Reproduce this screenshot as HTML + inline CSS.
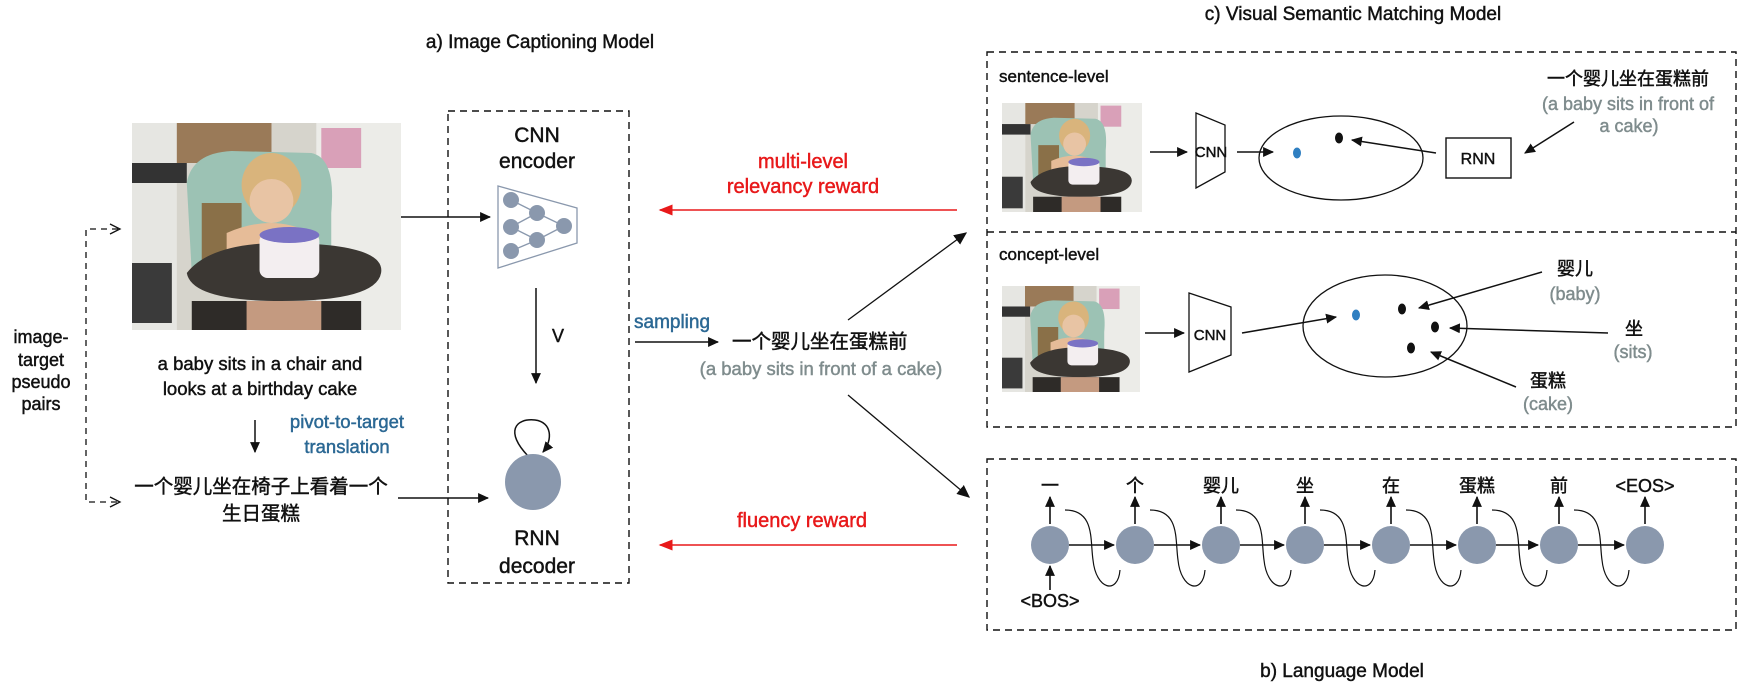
<!DOCTYPE html>
<html><head><meta charset="utf-8"><style>
html,body{margin:0;padding:0;background:#fff;}
svg{display:block;}
text{font-family:"Liberation Sans","Noto Sans CJK SC",sans-serif;fill:#111;stroke:#111;stroke-width:0.45;}
.g{fill:#7f8c8d;stroke:#7f8c8d;}
.b{fill:#2b6894;stroke:#2b6894;}
.r{fill:#e8191a;stroke:#e8191a;}
</style></head><body>
<svg width="1745" height="689" viewBox="0 0 1745 689" xmlns="http://www.w3.org/2000/svg">
<defs>
<marker id="ah" viewBox="0 0 10 10" refX="9" refY="5" markerWidth="11" markerHeight="11" orient="auto" markerUnits="userSpaceOnUse"><path d="M0,0.5 L10,5 L0,9.5 z" fill="#111"/></marker>
<marker id="ahs" viewBox="0 0 10 10" refX="9" refY="5" markerWidth="13" markerHeight="13" orient="auto" markerUnits="userSpaceOnUse"><path d="M0,0.5 L10,5 L0,9.5 z" fill="#111"/></marker>
<marker id="ahr" viewBox="0 0 10 10" refX="9" refY="5" markerWidth="14" markerHeight="14" orient="auto" markerUnits="userSpaceOnUse"><path d="M0,1 L10,5 L0,9 z" fill="#e8191a"/></marker>
<symbol id="photo" viewBox="0 0 270 207" preserveAspectRatio="none">
<rect width="270" height="207" fill="#d6d4cc"/>
<rect x="0" y="0" width="45" height="207" fill="#e6e6e2"/>
<rect x="0" y="40" width="55" height="20" fill="#333"/>
<rect x="0" y="140" width="40" height="60" fill="#3a3a3a"/>
<rect x="45" y="0" width="95" height="40" fill="#9a7a58"/>
<rect x="185" y="0" width="85" height="207" fill="#ecece8"/>
<rect x="190" y="5" width="40" height="40" fill="#d9a0b8"/>
<path d="M55,60 Q60,30 100,28 L180,30 Q205,35 200,90 L200,150 L60,150 z" fill="#9cc2b4"/>
<path d="M70,80 L110,80 L110,140 L70,140 z" fill="#8a7048"/>
<ellipse cx="140" cy="62" rx="30" ry="32" fill="#d9b47c"/>
<ellipse cx="140" cy="78" rx="22" ry="22" fill="#e8c4a4"/>
<path d="M95,110 Q140,90 180,110 L180,150 L95,150 z" fill="#e6bc98"/>
<path d="M55,150 Q80,118 160,120 Q255,122 250,150 Q245,178 150,178 Q60,178 55,150 z" fill="#3b3733"/>
<rect x="128" y="110" width="60" height="45" rx="8" fill="#f3eef0"/>
<ellipse cx="158" cy="112" rx="30" ry="8" fill="#7a72c4"/>
<rect x="60" y="178" width="170" height="29" fill="#2e2b28"/>
<rect x="115" y="178" width="75" height="29" fill="#c49a80"/>
</symbol>
</defs>

<text x="540" y="48" font-size="19" text-anchor="middle">a) Image Captioning Model</text>
<text x="1353" y="20" font-size="19" text-anchor="middle">c) Visual Semantic Matching Model</text>
<text x="1342" y="677" font-size="19" text-anchor="middle">b) Language Model</text>

<use href="#photo" x="132" y="123" width="269" height="207"/>

<path d="M118,229 L86,229 L86,502 L118,502" fill="none" stroke="#111" stroke-width="1.3" stroke-dasharray="6,5"/>
<path d="M110,224 L120,229 L110,234" fill="none" stroke="#111" stroke-width="1.3"/>
<path d="M110,497 L120,502 L110,507" fill="none" stroke="#111" stroke-width="1.3"/>
<text x="41" y="343" font-size="18" text-anchor="middle">image-</text>
<text x="41" y="366" font-size="18" text-anchor="middle">target</text>
<text x="41" y="388" font-size="18" text-anchor="middle">pseudo</text>
<text x="41" y="410" font-size="18" text-anchor="middle">pairs</text>

<text x="260" y="370" font-size="18.5" text-anchor="middle">a baby sits in a chair and</text>
<text x="260" y="395" font-size="18.5" text-anchor="middle">looks at a birthday cake</text>
<line x1="255" y1="420" x2="255" y2="452" stroke="#111" stroke-width="1.5" marker-end="url(#ah)"/>
<text class="b" x="347" y="428" font-size="18.5" text-anchor="middle">pivot-to-target</text>
<text class="b" x="347" y="453" font-size="18.5" text-anchor="middle">translation</text>
<text x="261" y="493" font-size="19.5" text-anchor="middle">一个婴儿坐在椅子上看着一个</text>
<text x="261" y="520" font-size="19.5" text-anchor="middle">生日蛋糕</text>

<rect x="448" y="111" width="181" height="472" fill="none" stroke="#111" stroke-width="1.4" stroke-dasharray="7,5"/>
<text x="537" y="142" font-size="21" text-anchor="middle">CNN</text>
<text x="537" y="168" font-size="21" text-anchor="middle">encoder</text>
<path d="M498,186 L577,208 L577,243 L498,268 z" fill="none" stroke="#8a98ad" stroke-width="1.3"/>
<g stroke="#8a98ad" stroke-width="1.3">
<line x1="511" y1="200" x2="537" y2="213"/><line x1="511" y1="227" x2="537" y2="213"/><line x1="511" y1="227" x2="537" y2="240"/><line x1="511" y1="251" x2="537" y2="240"/><line x1="537" y1="213" x2="564" y2="226"/><line x1="537" y1="240" x2="564" y2="226"/>
</g>
<g fill="#8a98ad">
<circle cx="511" cy="200" r="8"/><circle cx="511" cy="227" r="8"/><circle cx="511" cy="251" r="8"/><circle cx="537" cy="213" r="8"/><circle cx="537" cy="240" r="8"/><circle cx="564" cy="226" r="8"/>
</g>
<line x1="401" y1="217" x2="490" y2="217" stroke="#111" stroke-width="1.5" marker-end="url(#ah)"/>
<line x1="536" y1="288" x2="536" y2="383" stroke="#111" stroke-width="1.5" marker-end="url(#ah)"/>
<text x="558" y="342" font-size="18" text-anchor="middle">V</text>
<path d="M528,456 C505,432 515,418 535,420 C552,422 553,440 543,452" fill="none" stroke="#111" stroke-width="1.5" marker-end="url(#ah)"/>
<circle cx="533" cy="482" r="28" fill="#8a98ad"/>
<line x1="398" y1="498" x2="488" y2="498" stroke="#111" stroke-width="1.5" marker-end="url(#ah)"/>
<text x="537" y="545" font-size="21" text-anchor="middle">RNN</text>
<text x="537" y="573" font-size="21" text-anchor="middle">decoder</text>

<text class="r" x="803" y="168" font-size="20" text-anchor="middle">multi-level</text>
<text class="r" x="803" y="193" font-size="20" text-anchor="middle">relevancy reward</text>
<line x1="957" y1="210" x2="660" y2="210" stroke="#e8191a" stroke-width="1.5" marker-end="url(#ahr)"/>
<text class="r" x="802" y="527" font-size="20" text-anchor="middle">fluency reward</text>
<line x1="957" y1="545" x2="660" y2="545" stroke="#e8191a" stroke-width="1.5" marker-end="url(#ahr)"/>
<text class="b" x="634" y="328" font-size="19">sampling</text>
<line x1="635" y1="342" x2="718" y2="342" stroke="#111" stroke-width="1.5" marker-end="url(#ah)"/>
<text x="732" y="348" font-size="19.5">一个婴儿坐在蛋糕前</text>
<text class="g" x="821" y="375" font-size="18.5" text-anchor="middle">(a baby sits in front of a cake)</text>
<line x1="848" y1="320" x2="966" y2="233" stroke="#111" stroke-width="1.3" marker-end="url(#ahs)"/>
<line x1="848" y1="395" x2="969" y2="497" stroke="#111" stroke-width="1.3" marker-end="url(#ahs)"/>

<rect x="987" y="52" width="749" height="375" fill="none" stroke="#111" stroke-width="1.4" stroke-dasharray="7,5"/>
<line x1="987" y1="232" x2="1736" y2="232" stroke="#111" stroke-width="1.4" stroke-dasharray="7,5"/>
<text x="999" y="82" font-size="17">sentence-level</text>
<use href="#photo" x="1002" y="103" width="140" height="109"/>
<line x1="1150" y1="152" x2="1187" y2="152" stroke="#111" stroke-width="1.5" marker-end="url(#ah)"/>
<path d="M1196,113 L1225,125 L1225,172 L1196,188 z" fill="#fff" stroke="#111" stroke-width="1.3"/>
<text x="1211" y="157" font-size="15" text-anchor="middle">CNN</text>
<line x1="1237" y1="152" x2="1273" y2="152" stroke="#111" stroke-width="1.5" marker-end="url(#ah)"/>
<ellipse cx="1341" cy="158" rx="82" ry="42" fill="none" stroke="#111" stroke-width="1.3"/>
<ellipse cx="1297" cy="153" rx="4" ry="5.5" fill="#2f7fc1"/>
<ellipse cx="1339" cy="138" rx="4" ry="5.5" fill="#111"/>
<line x1="1436" y1="153" x2="1352" y2="140" stroke="#111" stroke-width="1.5" marker-end="url(#ah)"/>
<rect x="1446" y="138" width="65" height="40" fill="#fff" stroke="#111" stroke-width="1.4"/>
<text x="1478" y="164" font-size="16" text-anchor="middle">RNN</text>
<text x="1628" y="85" font-size="18" text-anchor="middle">一个婴儿坐在蛋糕前</text>
<text class="g" x="1628" y="110" font-size="18" text-anchor="middle">(a baby sits in front of</text>
<text class="g" x="1629" y="132" font-size="18" text-anchor="middle">a cake)</text>
<line x1="1574" y1="122" x2="1525" y2="153" stroke="#111" stroke-width="1.5" marker-end="url(#ah)"/>

<text x="999" y="260" font-size="17">concept-level</text>
<use href="#photo" x="1002" y="286" width="138" height="106"/>
<line x1="1145" y1="333" x2="1184" y2="333" stroke="#111" stroke-width="1.5" marker-end="url(#ah)"/>
<path d="M1189,293 L1231,307 L1231,355 L1189,372 z" fill="#fff" stroke="#111" stroke-width="1.3"/>
<text x="1210" y="340" font-size="15" text-anchor="middle">CNN</text>
<line x1="1242" y1="333" x2="1336" y2="317" stroke="#111" stroke-width="1.5" marker-end="url(#ah)"/>
<ellipse cx="1385" cy="326" rx="82" ry="51" fill="none" stroke="#111" stroke-width="1.3"/>
<ellipse cx="1356" cy="315" rx="4" ry="5.5" fill="#2f7fc1"/>
<ellipse cx="1402" cy="309" rx="4" ry="5.5" fill="#111"/>
<ellipse cx="1435" cy="327" rx="4" ry="5.5" fill="#111"/>
<ellipse cx="1411" cy="348" rx="4" ry="5.5" fill="#111"/>
<text x="1575" y="275" font-size="18" text-anchor="middle">婴儿</text>
<text class="g" x="1575" y="300" font-size="18" text-anchor="middle">(baby)</text>
<line x1="1542" y1="272" x2="1419" y2="308" stroke="#111" stroke-width="1.5" marker-end="url(#ah)"/>
<text x="1634" y="335" font-size="18" text-anchor="middle">坐</text>
<text class="g" x="1633" y="358" font-size="18" text-anchor="middle">(sits)</text>
<line x1="1608" y1="333" x2="1450" y2="328" stroke="#111" stroke-width="1.5" marker-end="url(#ah)"/>
<text x="1548" y="387" font-size="18" text-anchor="middle">蛋糕</text>
<text class="g" x="1548" y="410" font-size="18" text-anchor="middle">(cake)</text>
<line x1="1516" y1="387" x2="1431" y2="352" stroke="#111" stroke-width="1.5" marker-end="url(#ah)"/>

<rect x="987" y="459" width="749" height="171" fill="none" stroke="#111" stroke-width="1.4" stroke-dasharray="7,5"/>
<g stroke="#111" stroke-width="1.2" fill="none">
<path d="M1065,510 C1095,510 1090,540 1093,560 C1096,590 1118,595 1120,570"/>
<path d="M1150,510 C1180,510 1175,540 1178,560 C1181,590 1203,595 1205,570"/>
<path d="M1236,510 C1266,510 1261,540 1264,560 C1267,590 1289,595 1291,570"/>
<path d="M1320,510 C1350,510 1345,540 1348,560 C1351,590 1373,595 1375,570"/>
<path d="M1406,510 C1436,510 1431,540 1434,560 C1437,590 1459,595 1461,570"/>
<path d="M1492,510 C1522,510 1517,540 1520,560 C1523,590 1545,595 1547,570"/>
<path d="M1574,510 C1604,510 1599,540 1602,560 C1605,590 1627,595 1629,570"/>
</g>
<g stroke="#111" stroke-width="1.6">
<line x1="1069" y1="545" x2="1114" y2="545" marker-end="url(#ah)"/>
<line x1="1154" y1="545" x2="1200" y2="545" marker-end="url(#ah)"/>
<line x1="1240" y1="545" x2="1284" y2="545" marker-end="url(#ah)"/>
<line x1="1324" y1="545" x2="1370" y2="545" marker-end="url(#ah)"/>
<line x1="1410" y1="545" x2="1456" y2="545" marker-end="url(#ah)"/>
<line x1="1496" y1="545" x2="1538" y2="545" marker-end="url(#ah)"/>
<line x1="1578" y1="545" x2="1624" y2="545" marker-end="url(#ah)"/>
<line x1="1050" y1="524" x2="1050" y2="497" marker-end="url(#ah)"/>
<line x1="1135" y1="524" x2="1135" y2="497" marker-end="url(#ah)"/>
<line x1="1221" y1="524" x2="1221" y2="497" marker-end="url(#ah)"/>
<line x1="1305" y1="524" x2="1305" y2="497" marker-end="url(#ah)"/>
<line x1="1391" y1="524" x2="1391" y2="497" marker-end="url(#ah)"/>
<line x1="1477" y1="524" x2="1477" y2="497" marker-end="url(#ah)"/>
<line x1="1559" y1="524" x2="1559" y2="497" marker-end="url(#ah)"/>
<line x1="1645" y1="524" x2="1645" y2="497" marker-end="url(#ah)"/>
<line x1="1050" y1="590" x2="1050" y2="566" marker-end="url(#ah)"/>
</g>
<g fill="#8a98ad">
<circle cx="1050" cy="545" r="19"/><circle cx="1135" cy="545" r="19"/><circle cx="1221" cy="545" r="19"/><circle cx="1305" cy="545" r="19"/><circle cx="1391" cy="545" r="19"/><circle cx="1477" cy="545" r="19"/><circle cx="1559" cy="545" r="19"/><circle cx="1645" cy="545" r="19"/>
</g>
<g font-size="18" text-anchor="middle">
<text x="1050" y="492">一</text><text x="1135" y="492">个</text><text x="1221" y="492">婴儿</text><text x="1305" y="492">坐</text><text x="1391" y="492">在</text><text x="1477" y="492">蛋糕</text><text x="1559" y="492">前</text><text x="1645" y="492">&lt;EOS&gt;</text>
<text x="1050" y="607">&lt;BOS&gt;</text>
</g>
</svg>
</body></html>
